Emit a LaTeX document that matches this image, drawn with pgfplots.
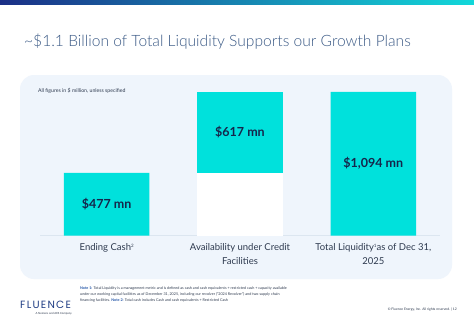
\documentclass[border=0pt]{standalone}
\usepackage{pgfplots}
\pgfplotsset{compat=1.18}
\usepackage{fontspec}
\setmainfont{Lato}
\newfontfamily\titlefont{Lato Light}
\newfontfamily\logofont{Poppins}[LetterSpace=12]
\definecolor{cyanbar}{HTML}{00E1DC}
\definecolor{navyt}{HTML}{15264B}
\definecolor{panel}{HTML}{EFF5FC}
\definecolor{titleblue}{HTML}{3B5A86}
\definecolor{labelgray}{HTML}{2E3A4F}
\definecolor{logoblue}{HTML}{1F3D84}
\definecolor{noteblue}{HTML}{2456A8}
\definecolor{linegray}{HTML}{DCE6F0}
\definecolor{gradA}{HTML}{1B2F86}
\definecolor{gradB}{HTML}{1F6FC0}
\definecolor{gradC}{HTML}{12D8DA}
\newcommand{\sups}[1]{\raisebox{3.5pt}{\fontsize{4.5}{5}\selectfont #1}}
\begin{document}
\begin{tikzpicture}
\useasboundingbox (0,0) rectangle (474pt,-324pt);
\fill[white] (0,0) rectangle (474pt,-324pt);
\shade[left color=gradA, middle color=gradB, right color=gradC] (0,0) rectangle (474pt,-4.5pt);
\fill[panel, rounded corners=14pt] (20pt,-75pt) rectangle (452pt,-279pt);
\node[anchor=base west, text=titleblue, font=\titlefont\fontsize{15.6}{18}\selectfont, inner sep=0pt] at (24pt,-46.5pt) {\textasciitilde\$1.1 Billion of Total Liquidity Supports our Growth Plans};
\node[anchor=base west, font=\fontsize{5.2}{6}\selectfont, text=labelgray, inner sep=0pt] at (38pt,-92pt) {All figures in \$ million, unless specified};
\begin{axis}[
  at={(40pt,-235.7pt)}, anchor=south west,
  scale only axis, width=400pt, height=157.9pt,
  xmin=-0.5, xmax=2.5, ymin=0, ymax=1200,
  ybar stacked, bar width=85.5pt,
  hide y axis, axis x line*=bottom,
  x axis line style={draw=linegray, line width=0.8pt, -},
  xtick={0,1,2}, major tick length=0pt,
  xticklabels={{Ending Cash\sups{2}},{Availability under Credit\\Facilities},{Total Liquidity\sups{1}as of Dec 31,\\2025}},
  xticklabel style={align=center, anchor=north, inner sep=0pt, yshift=-8pt, text=labelgray, font=\fontsize{9.5}{14}\selectfont},
  clip=false,
]
\addplot[fill=cyanbar, draw=none] coordinates {(0,477) (1,0) (2,1094)};
\addplot[fill=white, draw=none] coordinates {(0,0) (1,477) (2,0)};
\addplot[fill=cyanbar, draw=none] coordinates {(0,0) (1,617) (2,0)};
\coordinate (L0) at (axis cs:0,238.5);
\coordinate (L1) at (axis cs:1,785.5);
\coordinate (L2) at (axis cs:2,547);
\end{axis}
\node[font=\bfseries\fontsize{12.5}{14}\selectfont, text=navyt] at (L0) {\$477 mn};
\node[font=\bfseries\fontsize{12.5}{14}\selectfont, text=navyt] at (L1) {\$617 mn};
\node[font=\bfseries\fontsize{12.5}{14}\selectfont, text=navyt] at (L2) {\$1,094 mn};
\node[anchor=base west, inner sep=0pt, text=logoblue, font=\logofont\fontsize{10.5}{12}\selectfont] at (20pt,-308pt) {FLUENCE};
\node[anchor=base east, inner sep=0pt, text=labelgray, font=\fontsize{2.8}{3}\selectfont] at (72pt,-314pt) {A Siemens and AES Company};
\node[anchor=base west, inner sep=0pt, text=labelgray, font=\fontsize{3.7}{6}\selectfont, align=left] at (80pt,-301pt) {\textcolor{noteblue}{\bfseries Note 1:} Total Liquidity is a management metric and is defined as cash and cash equivalents + restricted cash + capacity available\\under our working capital facilities as of December 31, 2025, including our revolver (``2024 Revolver'') and two supply chain\\financing facilities. \textcolor{noteblue}{\bfseries Note 2:} Total cash includes Cash and cash equivalents + Restricted Cash};
\node[anchor=base east, inner sep=0pt, text=labelgray, font=\fontsize{3.4}{4}\selectfont] at (457pt,-310pt) {\textcopyright{} Fluence Energy, Inc. All rights reserved. | 12};
\end{tikzpicture}
\end{document}
